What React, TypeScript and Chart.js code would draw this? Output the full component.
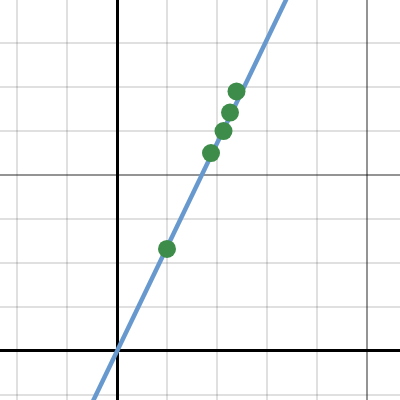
import React, { useEffect, useRef } from "react";
import { Chart, registerables } from "chart.js";

Chart.register(...registerables);

const pointX = [1.0, 1.88, 2.13, 2.26, 2.39];
const pointY = [1.16, 2.25, 2.5, 2.71, 2.95];
const lineX = [-1.2, 3.6];
const lineY = [-1.42, 4.25];
const xTicks = [-2, -1, 0, 1, 2, 3, 4, 5];
const yTicks = [-0.5, 0, 0.5, 1, 1.5, 2, 2.5, 3, 3.5];
const xMajor = [5];
const yMajor = [2];

function gridColor(major: number[]) {
  return (ctx: any) => {
    const v = ctx.tick ? ctx.tick.value : 0;
    if (Math.abs(v) < 1e-9) return "#000000";
    if (major.some((m) => Math.abs(m - v) < 1e-9)) return "rgba(0,0,0,0.42)";
    return "rgba(0,0,0,0.12)";
  };
}
function gridWidth(major: number[]) {
  return (ctx: any) => {
    const v = ctx.tick ? ctx.tick.value : 0;
    if (Math.abs(v) < 1e-9) return 3;
    return 2;
  };
}

export default function App() {
  const ref = useRef<HTMLCanvasElement | null>(null);
  useEffect(() => {
    document.body.style.margin = "0";
    const canvas = ref.current;
    if (!canvas) return;
    const chart = new Chart(canvas, {
      type: "scatter",
      data: {
        datasets: [
          {
            type: "line",
            data: lineX.map((x, i) => ({ x, y: lineY[i] })),
            borderColor: "rgb(104,153,206)",
            borderWidth: 4.5,
            pointRadius: 0,
            showLine: true,
            fill: false,
            order: 2,
          } as any,
          {
            type: "scatter",
            data: pointX.map((x, i) => ({ x, y: pointY[i] })),
            backgroundColor: "rgb(62,140,74)",
            borderWidth: 0,
            pointRadius: 9,
            order: 1,
          },
        ],
      },
      options: {
        animation: false,
        responsive: false,
        layout: { padding: 0, autoPadding: false },
        plugins: { legend: { display: false }, tooltip: { enabled: false } },
        scales: {
          x: {
            type: "linear",
            min: -2.34,
            max: 5.66,
            afterBuildTicks: (axis: any) => {
              axis.ticks = xTicks.map((v) => ({ value: v }));
            },
            ticks: { display: false },
            border: { display: false },
            grid: { drawTicks: false, color: gridColor(xMajor), lineWidth: gridWidth(xMajor) },
          },
          y: {
            type: "linear",
            min: -0.557,
            max: 3.989,
            afterBuildTicks: (axis: any) => {
              axis.ticks = yTicks.map((v) => ({ value: v }));
            },
            ticks: { display: false },
            border: { display: false },
            grid: { drawTicks: false, color: gridColor(yMajor), lineWidth: gridWidth(yMajor) },
          },
        },
      },
    });
    return () => chart.destroy();
  }, []);
  return (
    <div style={{ width: 400, height: 400, background: "#fff" }}>
      <canvas ref={ref} width={400} height={400} />
    </div>
  );
}
